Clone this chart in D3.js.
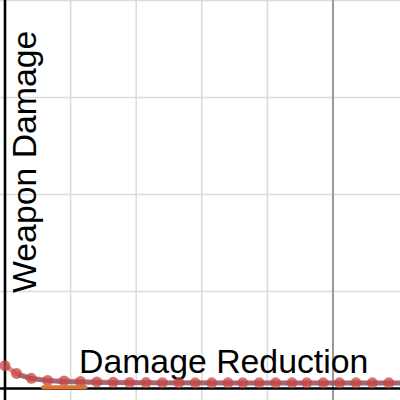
<!DOCTYPE html>
<html>
<head>
<meta charset="utf-8">
<script src="https://cdn.jsdelivr.net/npm/d3@7"></script>
<style>
  html, body { margin: 0; padding: 0; background: #fff; }
  svg { display: block; }
  text { font-family: "Liberation Sans", Arial, sans-serif; }
</style>
</head>
<body>
<svg width="400" height="400"></svg>
<script>
// values
const pointX = [0, 3.5, 8, 13, 18, 23, 28, 33, 38, 43, 48, 53, 58, 63, 68, 72.5, 77.5, 82.5, 87.5, 92, 97, 102, 107, 112, 117];
const pointY = [4.7, 3.1, 2.1, 1.65, 1.55, 1.45, 1.35, 1.28, 1.24, 1.22, 1.2, 1.2, 1.18, 1.18, 1.18, 1.17, 1.17, 1.17, 1.17, 1.17, 1.17, 1.17, 1.17, 1.17, 1.17];
const blueX = [4, 6, 8, 10, 13, 16, 20, 25, 30, 40, 50, 60, 80, 100, 122];
const blueY = [2.7, 2.4, 2.06, 1.86, 1.65, 1.44, 1.34, 1.24, 1.2, 1.15, 1.13, 1.11, 1.09, 1.09, 1.07];
const orangeX = [11.6, 24.6];
const orangeY = [0.25, 0.25];
const xGrid = [20, 40, 60, 80];   // minor
const xMajor = [100];
const yGrid = [20, 40, 60, 80];
const xLabel = "Damage Reduction";
const yLabel = "Weapon Damage";

const svg = d3.select("svg");
const w = 400, h = 400;

const x = d3.scaleLinear().domain([0, 100]).range([5, 333]);
const y = d3.scaleLinear().domain([0, 20]).range([388.5, 291.5]);

// grid
svg.append("g").selectAll("line.vx")
  .data(xGrid).enter().append("line")
  .attr("x1", d => x(d)).attr("x2", d => x(d))
  .attr("y1", 0).attr("y2", h)
  .attr("stroke", "#dcdcdc").attr("stroke-width", 1.6);
svg.append("g").selectAll("line.hy")
  .data(yGrid).enter().append("line")
  .attr("x1", 0).attr("x2", w)
  .attr("y1", d => y(d)).attr("y2", d => y(d))
  .attr("stroke", "#dcdcdc").attr("stroke-width", 1.6);
svg.append("g").selectAll("line.mx")
  .data(xMajor).enter().append("line")
  .attr("x1", d => x(d)).attr("x2", d => x(d))
  .attr("y1", 0).attr("y2", h)
  .attr("stroke", "#999").attr("stroke-width", 2);

// axes
svg.append("line")
  .attr("x1", 0).attr("x2", w)
  .attr("y1", y(0)).attr("y2", y(0))
  .attr("stroke", "#000").attr("stroke-width", 2.6);
svg.append("line")
  .attr("x1", x(0)).attr("x2", x(0))
  .attr("y1", 0).attr("y2", h)
  .attr("stroke", "#000").attr("stroke-width", 2.6);

// labels
svg.append("text")
  .attr("x", 79).attr("y", 373)
  .attr("font-size", 33.8)
  .text(xLabel);
svg.append("text")
  .attr("transform", "translate(36,293) rotate(-90)")
  .attr("font-size", 33.8)
  .text(yLabel);

const line = d3.line().curve(d3.curveMonotoneX);

// blue curve
svg.append("path")
  .attr("d", line(blueX.map((d, i) => [x(d), y(blueY[i])])))
  .attr("fill", "none")
  .attr("stroke", "#2d70b3").attr("stroke-width", 4.5)
  .attr("stroke-opacity", 0.7);

// red points + connecting line
const pts = pointX.map((d, i) => [x(d), y(pointY[i])]);
svg.append("path")
  .attr("d", d3.line()(pts.concat([[x(122), y(1.17)]])))
  .attr("fill", "none")
  .attr("stroke", "#c74440").attr("stroke-width", 5)
  .attr("stroke-opacity", 0.6);
svg.append("g").selectAll("circle")
  .data(pts).enter().append("circle")
  .attr("cx", d => d[0]).attr("cy", d => d[1])
  .attr("r", 5.5)
  .attr("fill", "#c74440").attr("fill-opacity", 0.75);

// orange segment
svg.append("path")
  .attr("d", d3.line()(orangeX.map((d, i) => [x(d), y(orangeY[i])])))
  .attr("stroke", "#e0712c").attr("stroke-width", 4)
  .attr("stroke-linecap", "round");
</script>
</body>
</html>
